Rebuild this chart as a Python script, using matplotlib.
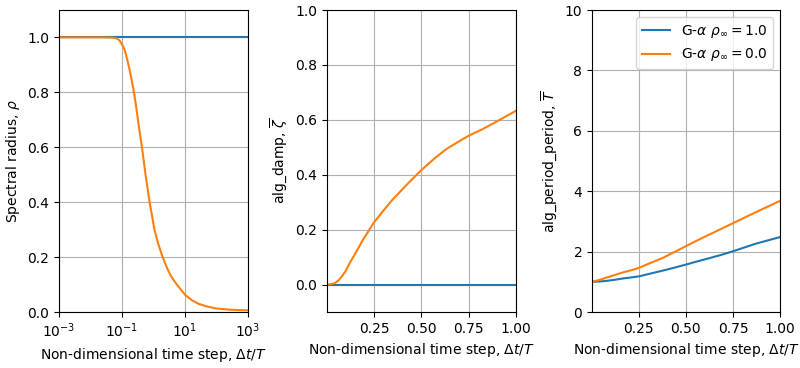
import matplotlib
matplotlib.use("Agg")
import matplotlib.pyplot as plt

# --- Data ---
# Spectral radius (log x)
rho_dt = [0.001, 0.005, 0.019, 0.032, 0.052, 0.07, 0.085, 0.1, 0.122, 0.145, 0.175, 0.205, 0.24, 0.28, 0.32, 0.37, 0.43, 0.49, 0.56, 0.65, 0.75, 0.9, 1.07, 1.4, 1.95, 2.7, 3.6, 5.5, 10.0, 17.0, 28.0, 50.0, 95.0, 300.0, 1000.0]
rho_a1 = [1.0] * len(rho_dt)
rho_a0 = [1.0, 1.0, 1.0, 1.0, 0.999, 0.996, 0.988, 0.975, 0.954, 0.922, 0.881, 0.842, 0.80, 0.75, 0.70, 0.65, 0.60, 0.55, 0.50, 0.45, 0.40, 0.35, 0.30, 0.25, 0.20, 0.16, 0.13, 0.10, 0.063, 0.042, 0.029, 0.020, 0.013, 0.008, 0.006]

# Algorithmic damping
damp_dt = [0.001, 0.02, 0.042, 0.06, 0.078, 0.10, 0.12, 0.143, 0.166, 0.19, 0.218, 0.25, 0.30, 0.342, 0.39, 0.43, 0.5, 0.57, 0.635, 0.7, 0.75, 0.82, 0.88, 0.94, 1.0]
damp_a1 = [0.0] * len(damp_dt)
damp_a0 = [0.0, 0.001, 0.005, 0.014, 0.028, 0.05, 0.077, 0.104, 0.132, 0.162, 0.192, 0.227, 0.27, 0.305, 0.34, 0.369, 0.417, 0.46, 0.495, 0.522, 0.542, 0.565, 0.587, 0.61, 0.633]

# Period elongation
per_dt = [0.001, 0.04, 0.078, 0.12, 0.165, 0.21, 0.25, 0.31, 0.377, 0.44, 0.5, 0.56, 0.623, 0.69, 0.75, 0.81, 0.87, 0.935, 1.0]
per_a1 = [1.0, 1.01, 1.03, 1.065, 1.11, 1.145, 1.18, 1.27, 1.37, 1.47, 1.57, 1.675, 1.78, 1.895, 2.01, 2.135, 2.26, 2.37, 2.48]
per_a0 = [1.0, 1.06, 1.14, 1.22, 1.31, 1.385, 1.46, 1.62, 1.79, 1.99, 2.18, 2.37, 2.56, 2.76, 2.94, 3.12, 3.30, 3.49, 3.68]

labels = [r"G-$\alpha$ $\rho_\infty=1.0$", r"G-$\alpha$ $\rho_\infty=0.0$"]
xlabel = r"Non-dimensional time step, $\Delta t/T$"

fig = plt.figure(figsize=(8, 3.68), dpi=100)
W, H = 800, 368
def ax_at(x0, x1, y0=10, y1=312):
    return fig.add_axes([x0 / W, (H - y1) / H, (x1 - x0) / W, (y1 - y0) / H])

ax1 = ax_at(59, 248)
ax2 = ax_at(327, 516)
ax3 = ax_at(592, 780)

# Left
ax1.plot(rho_dt, rho_a1, color="#1f77b4", label=labels[0])
ax1.plot(rho_dt, rho_a0, color="#ff7f0e", label=labels[1])
ax1.set_xscale("log")
ax1.set_xlim(1e-3, 1e3)
ax1.set_ylim(0, 1.1)
ax1.set_xticks([1e-3, 1e-1, 1e1, 1e3])
ax1.minorticks_off()
ax1.set_yticks([0.0, 0.2, 0.4, 0.6, 0.8, 1.0])
ax1.set_ylabel(r"Spectral radius, $\rho$")
ax1.set_xlabel(xlabel)
ax1.grid(True)

# Middle
ax2.plot(damp_dt, damp_a1, color="#1f77b4", label=labels[0])
ax2.plot(damp_dt, damp_a0, color="#ff7f0e", label=labels[1])
ax2.set_xlim(0.001, 1.0)
ax2.set_ylim(-0.1, 1.0)
ax2.set_xticks([0.25, 0.5, 0.75, 1.0])
ax2.set_yticks([0.0, 0.2, 0.4, 0.6, 0.8, 1.0])
ax2.set_ylabel(r"alg_damp, $\overline{\zeta}$")
ax2.set_xlabel(xlabel)
ax2.grid(True)

# Right
ax3.plot(per_dt, per_a1, color="#1f77b4", label=labels[0])
ax3.plot(per_dt, per_a0, color="#ff7f0e", label=labels[1])
ax3.set_xlim(0.001, 1.0)
ax3.set_ylim(0, 10)
ax3.set_xticks([0.25, 0.5, 0.75, 1.0])
ax3.set_yticks([0, 2, 4, 6, 8, 10])
ax3.set_ylabel(r"alg_period_period, $\overline{T}$")
ax3.set_xlabel(xlabel)
ax3.grid(True)
ax3.legend(loc="upper right")

fig.savefig("out.png", dpi=100)
